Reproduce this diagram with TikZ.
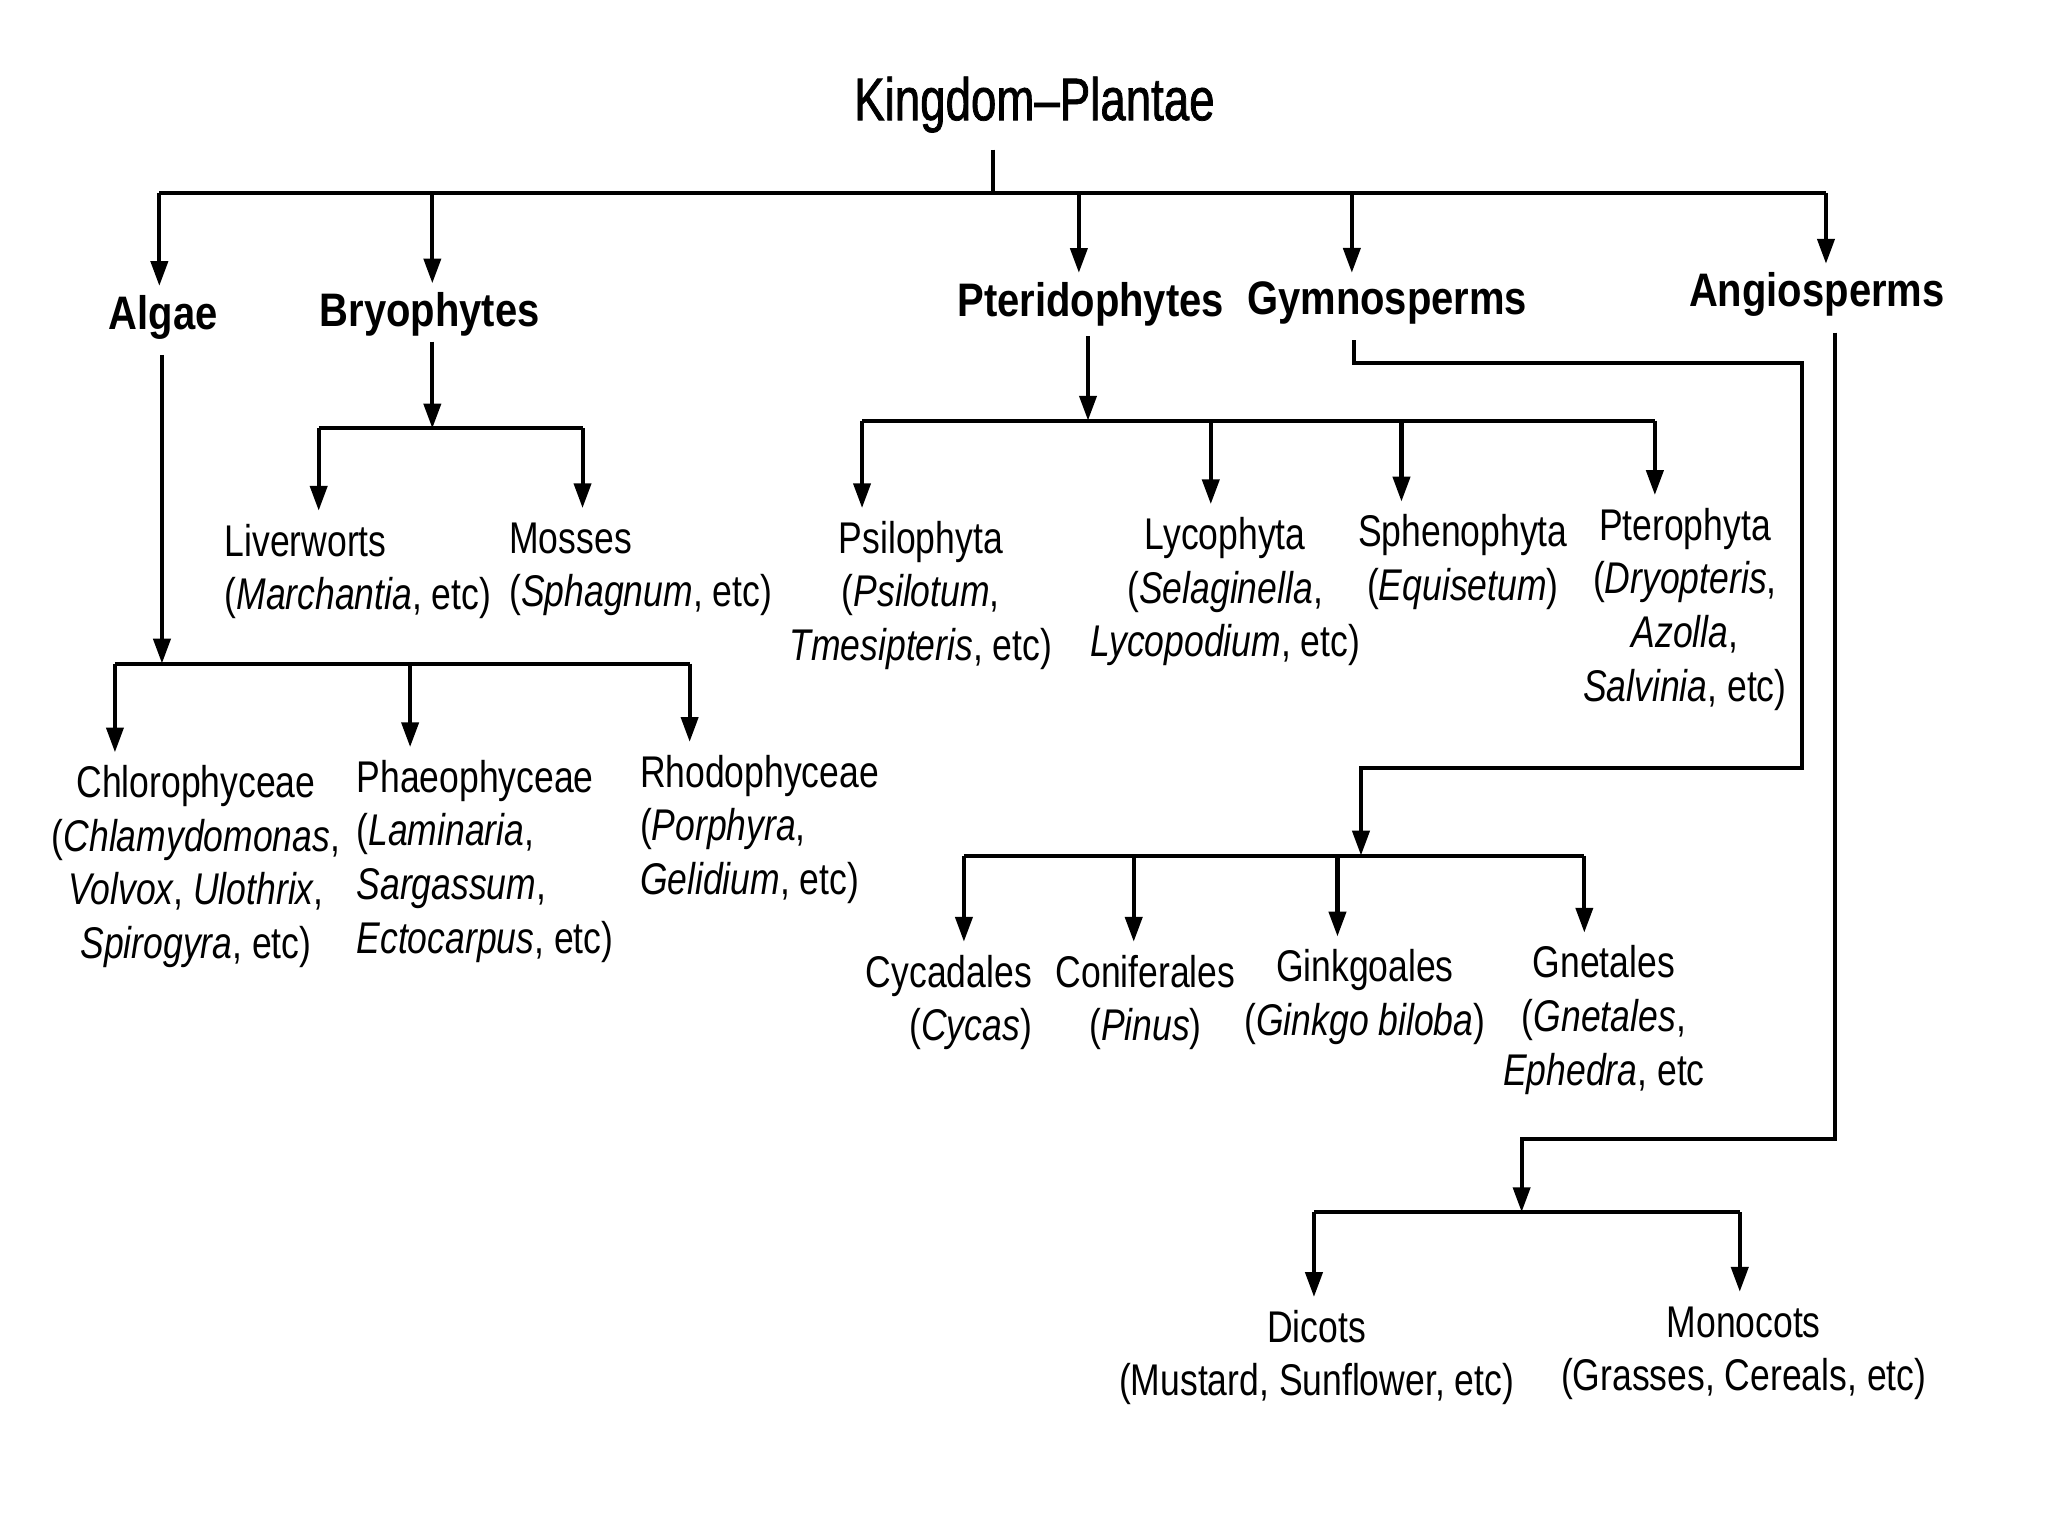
\documentclass[tikz,border=0pt]{standalone}
\usepackage{fontspec}
\setmainfont{Liberation Sans}[FakeStretch=0.80]
\newfontfamily\headfont{Liberation Sans}[FakeStretch=0.85]
\newfontfamily\titlefont{Liberation Sans}[FakeStretch=0.76, FakeBold=1.2]
\usetikzlibrary{arrows.meta}
\begin{document}
\begin{tikzpicture}[x=1pt,y=-1pt,
  lbl/.style={inner sep=0pt, outer sep=0pt, font=\fontsize{34}{41}\selectfont, anchor=north, align=center},
  lblL/.style={lbl, anchor=north west, align=left},
  lblR/.style={lbl, anchor=north east, align=right},
  head/.style={inner sep=0pt, outer sep=0pt, anchor=base, font=\headfont\bfseries\fontsize{36}{43}\selectfont},
  ttl/.style={inner sep=0pt, outer sep=0pt, anchor=base, font=\titlefont\fontsize{46}{55}\selectfont},
  ln/.style={line width=3.1pt, line join=miter},
  arr/.style={ln, -{Triangle[length=19pt,width=13pt]}},
  down/.style={arr, shorten >=6pt},
]
\useasboundingbox (0,0) rectangle (1568,1176);
\fill[white] (0,0) rectangle (1568,1176);

% ---------- nodes ----------
\node[ttl]  (root)  at (792,92)  {Kingdom–Plantae};
\node[head] (algae) at (125,252) {Algae};
\node[head] (bryo)  at (329,250) {Bryophytes};
\node[head] (pter)  at (835,242) {Pteridophytes};
\node[head] (gymn)  at (1062,241) {Gymnosperms};
\node[head] (angi)  at (1391,235) {Angiosperms};

\node[lblL] (liver) at (172,397) {\strut Liverworts\\(\textit{Marchantia}, etc)};
\node[lblL] (moss)  at (390,395) {\strut Mosses\\(\textit{Sphagnum}, etc)};

\node[lbl]  (chl)   at (150,582) {\strut Chlorophyceae\\(\textit{Chlamydomonas},\\\textit{Volvox}, \textit{Ulothrix},\\\textit{Spirogyra}, etc)};
\node[lblL] (pha)   at (273,578) {\strut Phaeophyceae\\(\textit{Laminaria},\\\textit{Sargassum},\\\textit{Ectocarpus}, etc)};
\node[lblL] (rho)   at (490,574) {\strut Rhodophyceae\\(\textit{Porphyra},\\\textit{Gelidium}, etc)};

\node[lbl] (psil)  at (705,395)  {\strut Psilophyta\\(\textit{Psilotum},\\\textit{Tmesipteris}, etc)};
\node[lbl] (lyco)  at (938,392)  {\strut Lycophyta\\(\textit{Selaginella},\\\textit{Lycopodium}, etc)};
\node[lbl] (sphe)  at (1120,390) {\strut Sphenophyta\\(\textit{Equisetum})};
\node[lbl] (ptero) at (1290,385) {\strut Pterophyta\\(\textit{Dryopteris},\\\textit{Azolla},\\\textit{Salvinia}, etc)};

\node[lblR] (cyca)  at (790,727)  {\strut Cycadales\\(\textit{Cycas})};
\node[lbl]  (coni)  at (877,727)  {\strut Coniferales\\(\textit{Pinus})};
\node[lbl]  (gink)  at (1045,723) {\strut Ginkgoales\\(\textit{Ginkgo biloba})};
\node[lbl]  (gnet)  at (1228,720) {\strut Gnetales\\(\textit{Gnetales},\\\textit{Ephedra}, etc};

\node[lbl]  (dico)  at (1008,999) {\strut Dicots\\(Mustard, Sunflower, etc)};
\node[lbl]  (mono)  at (1335,995) {\strut Monocots\\(Grasses, Cereals, etc)};

% ---------- junction coordinates ----------
\coordinate (rootJ) at (760,148);
\coordinate (tA) at (122,148);
\coordinate (tB) at (331,148);
\coordinate (tP) at (826,148);
\coordinate (tG) at (1035,148);
\coordinate (tN) at (1398,148);

\coordinate (bJ) at (331,328);
\coordinate (bL) at (244,328);
\coordinate (bR) at (446,328);

\coordinate (aJ) at (124,508);
\coordinate (a1) at (88,508);
\coordinate (a2) at (314,508);
\coordinate (a3) at (528,508);

\coordinate (pJ) at (833,322);
\coordinate (p1) at (660,322);
\coordinate (p2) at (927,322);
\coordinate (p3) at (1073,322);
\coordinate (p4) at (1267,322);

\coordinate (gA) at (1037,278);
\coordinate (gB) at (1380,278);
\coordinate (gC) at (1380,588);
\coordinate (gD) at (1042,588);
\coordinate (gJ) at (1042,655);
\coordinate (g1) at (738,655);
\coordinate (g2) at (868,655);
\coordinate (g3) at (1024,655);
\coordinate (g4) at (1213,655);

\coordinate (nA) at (1405,872);
\coordinate (nB) at (1165,872);
\coordinate (nJ) at (1165,928);
\coordinate (n1) at (1006,928);
\coordinate (n2) at (1332,928);

% ---------- connectors ----------
\draw[ln] (rootJ |- root.south) ++(0,13) -- (rootJ);
\draw[ln] (tA) -- (tN);
\draw[down, shorten >=7pt] (tA) -- (tA |- algae.north);
\draw[down, shorten >=7pt] (tB) -- (tB |- bryo.north);
\draw[down, shorten >=7pt] (tP) -- (tP |- pter.north);
\draw[down, shorten >=7pt] (tG) -- (tG |- gymn.north);
\draw[down, shorten >=7pt] (tN) -- (tN |- angi.north);

% Bryophytes
\draw[arr, shorten <=4pt] (bJ |- bryo.south) -- (bJ);
\draw[ln] (bL) -- (bR);
\draw[down] (bL) -- (bL |- liver.north);
\draw[down] (bR) -- (bR |- moss.north);

% Algae
\draw[arr, shorten <=12pt] (aJ |- algae.south) -- (aJ);
\draw[ln] (a1) -- (a3);
\draw[down] (a1) -- (a1 |- chl.north);
\draw[down] (a2) -- (a2 |- pha.north);
\draw[down] (a3) -- (a3 |- rho.north);

% Pteridophytes
\draw[arr, shorten <=8pt] (pJ |- pter.south) -- (pJ);
\draw[ln] (p1) -- (p4);
\draw[down] (p1) -- (p1 |- psil.north);
\draw[down] (p2) -- (p2 |- lyco.north);
\draw[down] (p3) -- (p3 |- sphe.north);
\draw[down] (p4) -- (p4 |- ptero.north);

% Gymnosperms
\draw[arr, shorten <=12pt] (gA |- gymn.south) -- (gA) -- (gB) -- (gC) -- (gD) -- (gJ);
\draw[ln] (g1) -- (g4);
\draw[down] (g1) -- (g1 |- cyca.north);
\draw[down] (g2) -- (g2 |- coni.north);
\draw[down] (g3) -- (g3 |- gink.north);
\draw[down] (g4) -- (g4 |- gnet.north);

% Angiosperms
\draw[arr, shorten <=12pt] (nA |- angi.south) -- (nA) -- (nB) -- (nJ);
\draw[ln] (n1) -- (n2);
\draw[down] (n1) -- (n1 |- dico.north);
\draw[down] (n2) -- (n2 |- mono.north);
\end{tikzpicture}
\end{document}
